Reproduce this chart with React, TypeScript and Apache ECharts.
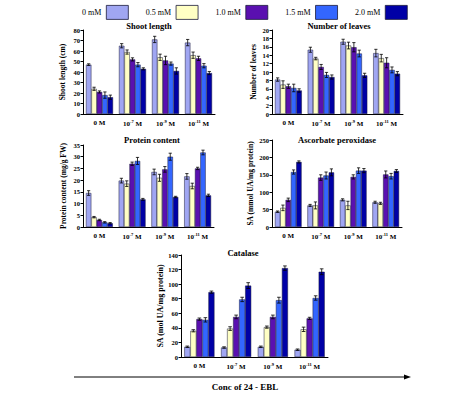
import React, { useEffect, useRef } from "react";
import * as echarts from "echarts";

const treatments = ["0 mM", "0.5 mM", "1.0 mM", "1.5 mM", "2.0 mM"];
const colors = ["#a0a6f2", "#ffffc4", "#5a10b0", "#3366ff", "#0000a6"];
const categories = ["0 M", "10^-7 M", "10^-9 M", "10^-11 M"];

// each row: one treatment (mM) across the four EBL concentrations
const shootLength = [
  [47, 65, 71, 68],
  [24, 59, 54, 56],
  [21, 52, 51, 53],
  [18, 47, 48, 46],
  [16, 43, 41, 39],
];
const shootLengthErr = [
  [0.8, 2, 3, 3],
  [1.5, 2, 3, 3],
  [1, 1.5, 4, 2],
  [3, 2, 1.5, 2],
  [2, 1, 3, 1.5],
];
const leaves = [
  [8.2, 15.3, 17.2, 14.5],
  [7.0, 13.2, 16.3, 13.3],
  [6.6, 11.2, 15.9, 12.2],
  [6.2, 9.3, 14.4, 10.5],
  [5.6, 8.8, 9.2, 9.6],
];
const leavesErr = [
  [0.4, 0.6, 0.6, 0.9],
  [0.9, 0.3, 0.8, 0.9],
  [0.5, 0.6, 1.1, 1.2],
  [0.9, 0.6, 0.8, 0.7],
  [0.4, 0.5, 0.5, 0.5],
];
const protein = [
  [14.5, 19.8, 23.5, 21.6],
  [4.2, 18.5, 21, 17.5],
  [3.0, 27, 24.6, 25],
  [2.0, 28.2, 30, 31.8],
  [1.6, 11.8, 12.8, 13.5],
];
const proteinErr = [
  [1.0, 1.0, 1.2, 1.2],
  [0.3, 1.2, 1.5, 1.2],
  [0.3, 0.7, 1.2, 0.5],
  [0.3, 1.5, 1.5, 1.0],
  [0.3, 0.4, 0.3, 0.5],
];
const ascorbate = [
  [44, 62, 78, 71],
  [55, 62, 62, 68],
  [78, 142, 144, 151],
  [158, 148, 162, 146],
  [187, 157, 162, 161],
];
const ascorbateErr = [
  [2, 3, 3, 3],
  [8, 10, 12, 3],
  [5, 8, 6, 10],
  [6, 10, 8, 8],
  [3, 10, 6, 4],
];
const catalase = [
  [14, 13, 14, 10],
  [36, 39, 41, 38],
  [52, 55, 55, 53],
  [51, 79, 78, 81],
  [89, 98, 122, 117],
];
const catalaseErr = [
  [1, 1, 1, 1],
  [1.5, 2.5, 1.5, 3],
  [1.5, 2.5, 2.5, 1.5],
  [3, 3, 4, 3],
  [1.5, 4, 3, 4],
];

const FONT = "Liberation Serif";
const GAP = 0.18;

const panels = [
  { title: "Shoot length", yName: "Shoot length (cm)", values: shootLength, errs: shootLengthErr, max: 80, interval: 10,
    grid: { left: 83, top: 30, width: 132, height: 84 }, titlePos: [149, 26], nameGap: 17, nameSize: 7.5 },
  { title: "Number of leaves", yName: "Number of leaves", values: leaves, errs: leavesErr, max: 20, interval: 2,
    grid: { left: 272, top: 30, width: 131, height: 84 }, titlePos: [339, 26], nameGap: 15, nameSize: 7.5 },
  { title: "Protein content", yName: "Protein content (mg/g FW)", values: protein, errs: proteinErr, max: 35, interval: 5,
    grid: { left: 83, top: 145, width: 131, height: 82 }, titlePos: [152, 140], nameGap: 16, nameSize: 7.5 },
  { title: "Ascorbate peroxidase", yName: "SA (mmol UA/mg protein)", values: ascorbate, errs: ascorbateErr, max: 250, interval: 50,
    grid: { left: 272, top: 140, width: 130, height: 87 }, titlePos: [337, 140], nameGap: 18, nameSize: 7.5 },
  { title: "Catalase", yName: "SA (mol UA/mg protein)", values: catalase, errs: catalaseErr, max: 140, interval: 20,
    grid: { left: 181, top: 255, width: 147, height: 102 }, titlePos: [243, 253], nameGap: 10, nameSize: 8 },
];

function catLabel(v: string) {
  const m = v.match(/^10\^(-\d+) M$/);
  if (m) return "{b|10}{sup|" + m[1] + "}{b| M}";
  return "{b|" + v + "}";
}

export default function App() {
  const ref = useRef<HTMLDivElement>(null);
  useEffect(() => {
    if (!ref.current) return;
    const chart = echarts.init(ref.current, null, { renderer: "svg" });
    const grids: any[] = [];
    const xAxes: any[] = [];
    const yAxes: any[] = [];
    const series: any[] = [];
    const graphics: any[] = [];
    panels.forEach((p, pi) => {
      grids.push({ ...p.grid, containLabel: false });
      xAxes.push({
        type: "category", gridIndex: pi, data: categories,
        axisLine: { lineStyle: { color: "#000", width: 1 } },
        axisTick: { show: false },
        axisLabel: {
          margin: 5, interval: 0, hideOverlap: false, formatter: catLabel,
          rich: {
            b: { fontFamily: FONT, fontWeight: "bold", fontSize: 7, color: "#000" },
            sup: { fontFamily: FONT, fontWeight: "bold", fontSize: 4.5, color: "#000", padding: [0, 0, 5, 0] },
          },
        },
      });
      yAxes.push({
        type: "value", gridIndex: pi, min: 0, max: p.max, interval: p.interval,
        name: p.yName, nameLocation: "middle", nameGap: p.nameGap,
        nameTextStyle: { fontFamily: FONT, fontWeight: "bold", fontSize: p.nameSize, color: "#000" },
        axisLine: { show: true, lineStyle: { color: "#000", width: 1 } },
        axisTick: { show: true, length: 2.5, lineStyle: { color: "#000" } },
        splitLine: { show: false },
        axisLabel: { fontFamily: FONT, fontWeight: "bold", fontSize: 6.5, color: "#000", margin: 3 },
      });
      p.values.forEach((row, si) => {
        series.push({
          type: "bar", name: treatments[si], xAxisIndex: pi, yAxisIndex: pi,
          data: row, barGap: "0%", barCategoryGap: (GAP * 100) + "%",
          itemStyle: { color: colors[si], borderColor: "#1a1a3a", borderWidth: 0.5 },
          emphasis: { disabled: true },
        });
      });
      const errData: any[] = [];
      p.values.forEach((row, si) => row.forEach((v, ci) => errData.push([ci, v, p.errs[si][ci], si])));
      series.push({
        type: "custom", name: "err" + pi, xAxisIndex: pi, yAxisIndex: pi, z: 5,
        encode: { x: 0, y: 1 },
        data: errData,
        renderItem: (params: any, api: any) => {
          const ci = api.value(0), v = api.value(1), e = api.value(2), si = api.value(3);
          const band = api.size([1, 0])[0];
          const bw = (band * (1 - GAP)) / 5;
          const c = api.coord([ci, v]);
          const x = c[0] + (si - 2) * bw;
          const top = api.coord([ci, v + e])[1];
          const bot = api.coord([ci, Math.max(0, v - e)])[1];
          const cap = bw * 0.3;
          const st = { stroke: "#000", lineWidth: 0.8 };
          return {
            type: "group",
            children: [
              { type: "line", shape: { x1: x, y1: top, x2: x, y2: bot }, style: st },
              { type: "line", shape: { x1: x - cap, y1: top, x2: x + cap, y2: top }, style: st },
              { type: "line", shape: { x1: x - cap, y1: bot, x2: x + cap, y2: bot }, style: st },
            ],
          };
        },
      });
      graphics.push({
        type: "text", x: p.titlePos[0], y: p.titlePos[1],
        style: { text: p.title, fontFamily: FONT, fontWeight: "bold", fontSize: 8.5, fill: "#000", textAlign: "center", textVerticalAlign: "middle" },
      });
    });
    graphics.push(
      { type: "line", shape: { x1: 74, y1: 377, x2: 406, y2: 377 }, style: { stroke: "#000", lineWidth: 1 } },
      { type: "polygon", shape: { points: [[411, 377], [404, 374.5], [404, 379.5]] }, style: { fill: "#000" } },
      { type: "text", x: 245, y: 387, style: { text: "Conc of 24 - EBL", fontFamily: FONT, fontWeight: "bold", fontSize: 9, fill: "#000", textAlign: "center", textVerticalAlign: "middle" } },
    );
    chart.setOption({
      animation: false,
      backgroundColor: "#fff",
      legend: {
        data: treatments, left: 77, top: 0, align: "right",
        itemWidth: 22, itemHeight: 14, itemGap: 17,
        icon: "rect",
        itemStyle: { borderColor: "#1a1a3a", borderWidth: 0.8 },
        textStyle: { fontFamily: FONT, fontSize: 8, color: "#000" },
        selectedMode: false,
      },
      grid: grids, xAxis: xAxes, yAxis: yAxes, series, graphic: graphics,
    });
    return () => chart.dispose();
  }, []);
  return <div ref={ref} style={{ position: "absolute", left: 0, top: 0, width: 474, height: 396 }} />;
}
